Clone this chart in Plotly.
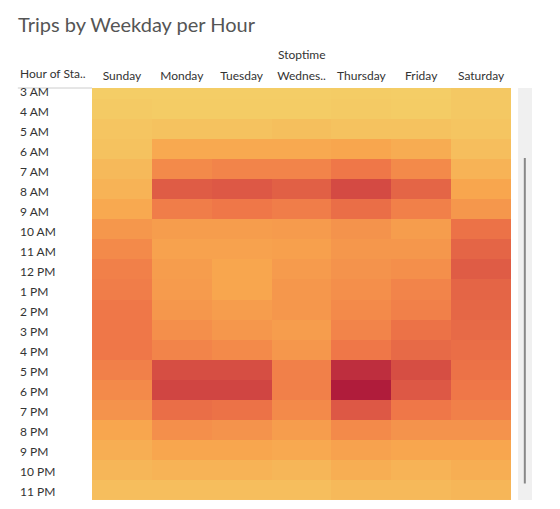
import plotly.graph_objects as go

days = ["Sunday", "Monday", "Tuesday", "Wednes..", "Thursday", "Friday", "Saturday"]
hours = ["3 AM", "4 AM", "5 AM", "6 AM", "7 AM", "8 AM", "9 AM", "10 AM", "11 AM", "12 PM",
         "1 PM", "2 PM", "3 PM", "4 PM", "5 PM", "6 PM", "7 PM", "8 PM", "9 PM", "10 PM", "11 PM"]
trips = [
    [.05, .05, .05, .05, .06, .05, .08],
    [.07, .06, .06, .06, .07, .06, .08],
    [.10, .12, .12, .14, .12, .12, .10],
    [.12, .28, .28, .28, .30, .26, .15],
    [.18, .45, .48, .48, .55, .45, .22],
    [.22, .70, .72, .68, .80, .65, .30],
    [.28, .52, .55, .52, .60, .50, .38],
    [.38, .35, .35, .36, .40, .35, .58],
    [.45, .32, .32, .33, .38, .38, .65],
    [.50, .35, .30, .36, .40, .42, .70],
    [.52, .36, .30, .38, .42, .48, .65],
    [.55, .38, .35, .38, .45, .50, .64],
    [.55, .42, .38, .35, .48, .58, .62],
    [.55, .48, .45, .38, .55, .62, .60],
    [.50, .78, .78, .50, .92, .78, .58],
    [.45, .82, .82, .50, 1.0, .72, .55],
    [.40, .60, .58, .45, .72, .55, .50],
    [.30, .42, .40, .35, .45, .40, .40],
    [.25, .30, .30, .28, .32, .30, .30],
    [.20, .22, .22, .20, .25, .22, .25],
    [.15, .15, .15, .15, .18, .18, .20],
]

rows = list(range(len(hours)))
scale = [[0, "#f3d56b"], [0.3, "#f8a64e"], [0.55, "#ef7748"], [0.8, "#d44a43"], [1, "#b01c3b"]]

fig = go.Figure(go.Heatmap(z=trips, x=days, y=rows, colorscale=scale, zmin=0, zmax=1,
                           showscale=False, xgap=0, ygap=0))

font = dict(family="Lato, Open Sans, sans-serif", size=12, color="#333")
for i, h in enumerate(hours):
    fig.add_annotation(x=-0.177, xref="paper", y=i + 0.1, yref="y", text=h, showarrow=False,
                       xanchor="left", font=font)
fig.add_annotation(x=-0.177, xref="paper", y=1.034, yref="paper", text="Hour of Sta..",
                   showarrow=False, xanchor="left", yanchor="middle", font=font)
fig.add_annotation(x=0.5, xref="paper", y=1.082, yref="paper", text="Stoptime",
                   showarrow=False, yanchor="middle", font=font)

# scrollbar
fig.add_shape(type="rect", xref="paper", yref="paper", x0=1.017, x1=1.05, y0=0, y1=1,
              fillcolor="#f0f0f0", line_width=0)
fig.add_shape(type="line", xref="paper", yref="paper", x0=1.033, x1=1.033, y0=0.04, y1=0.83,
              line=dict(color="#888", width=2))
fig.add_shape(type="line", xref="paper", yref="paper", x0=-0.2, x1=1.14, y0=-0.05, y1=-0.05,
              line=dict(color="#ddd", width=1))
fig.add_shape(type="line", xref="paper", yref="paper", x0=-0.177, x1=0, y0=1, y1=1,
              line=dict(color="#ccc", width=1))

fig.update_layout(
    width=560, height=509, margin=dict(l=84, r=57, t=80, b=17),
    plot_bgcolor="white", paper_bgcolor="white",
    title=dict(text="Trips by Weekday per Hour", x=0.018, xanchor="left", y=0.967,
               yanchor="middle",
               font=dict(family="Lato, Open Sans, sans-serif", size=20, color="#555")),
    xaxis=dict(side="top", showgrid=False, ticks="", tickfont=font, ticklabelstandoff=5),
    yaxis=dict(range=[20.5, -0.05], showticklabels=False, showgrid=False, zeroline=False),
)

fig.write_html("out.html")
